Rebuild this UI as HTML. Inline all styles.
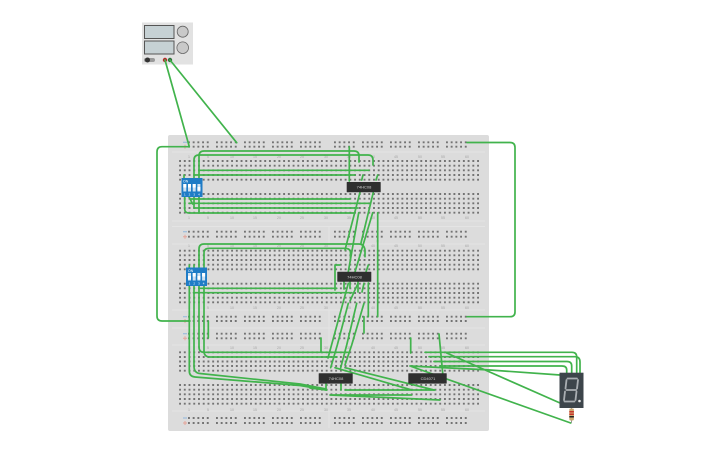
<!DOCTYPE html>
<html><head><meta charset="utf-8"><style>
html,body{margin:0;padding:0;background:#fff;width:725px;height:453px;overflow:hidden}
svg{display:block;filter:blur(0.35px)}
text{font-family:"Liberation Sans",sans-serif}
</style></head><body>
<svg width="725" height="453" viewBox="0 0 725 453" xmlns="http://www.w3.org/2000/svg">
<!-- breadboard -->
<rect x="168" y="135" width="321" height="296" rx="2" fill="#dcdcdc"/>
<g stroke="#e4e4e4" stroke-width="1" fill="none">
<path d="M172 152H485M172 221H485M172 226.500H485M172 244H485M172 310H485M172 328H485M172 345H485M172 411H485M329 227V244M329 310V345M329 411V428"/>
</g>
<!-- holes -->
<path fill="none" stroke="#737373" stroke-width="1.900" stroke-dasharray="1.900 2.830" d="
M179.100 161H479M179.100 165.700H479M179.100 170.300H479M179.100 175H479M179.100 179.700H479
M179.100 194H479M179.100 198.700H479M179.100 203.300H479M179.100 208H479M179.100 212.700H479
M179.100 250.700H479M179.100 255.300H479M179.100 260H479M179.100 264.700H479M179.100 269.300H479
M179.100 283.700H479M179.100 288.300H479M179.100 293H479M179.100 297.700H479M179.100 302.300H479
M179.100 352.300H479M179.100 357H479M179.100 361.500H479M179.100 366H479M179.100 370.700H479
M179.100 385H479M179.100 389.700H479M179.100 394.300H479M179.100 399H479M179.100 403.700H479"/>
<path fill="none" stroke="#737373" stroke-width="1.900" stroke-dasharray="1.900 2.800 1.900 2.800 1.900 2.800 1.900 2.800 1.900 7.300" d="
M188 142.300H325M188 146.700H325M334 142.300H470M334 146.700H470
M188 231.700H325M188 236.700H325M334 231.700H470M334 236.700H470
M188 316.700H325M188 321H325M334 316.700H470M334 321H470
M188 333.700H325M188 338.300H325M334 333.700H470M334 338.300H470
M188 418H325M188 423H325M334 418H470M334 423H470"/>
<!-- rail marks -->
<g stroke-width="1" fill="none">
<path stroke="#8fb6dc" d="M183 142.300h4M183 231.700h4M183 316.700h4M183 333.700h4M183 418h4"/>
<path stroke="#e5a59a" d="M183 146.700h4M185 144.700v4M183 236.700h4M185 234.700v4M183 321h4M185 319v4M183 338.300h4M185 336.300v4M183 423h4M185 421v4"/>
</g>
<!-- numbers -->
<g font-size="3.500" fill="#a5a5a5" text-anchor="middle">
<text x="189" y="158">1</text><text x="208" y="158">5</text><text x="232" y="158">10</text><text x="255" y="158">15</text><text x="279" y="158">20</text><text x="302" y="158">25</text><text x="326" y="158">30</text><text x="349" y="158">35</text><text x="373" y="158">40</text><text x="396" y="158">45</text><text x="420" y="158">50</text><text x="443" y="158">55</text><text x="467" y="158">60</text>
<text x="189" y="219">1</text><text x="208" y="219">5</text><text x="232" y="219">10</text><text x="255" y="219">15</text><text x="279" y="219">20</text><text x="302" y="219">25</text><text x="326" y="219">30</text><text x="349" y="219">35</text><text x="373" y="219">40</text><text x="396" y="219">45</text><text x="420" y="219">50</text><text x="443" y="219">55</text><text x="467" y="219">60</text>
<text x="189" y="247">1</text><text x="208" y="247">5</text><text x="232" y="247">10</text><text x="255" y="247">15</text><text x="279" y="247">20</text><text x="302" y="247">25</text><text x="326" y="247">30</text><text x="349" y="247">35</text><text x="373" y="247">40</text><text x="396" y="247">45</text><text x="420" y="247">50</text><text x="443" y="247">55</text><text x="467" y="247">60</text>
<text x="189" y="309">1</text><text x="208" y="309">5</text><text x="232" y="309">10</text><text x="255" y="309">15</text><text x="279" y="309">20</text><text x="302" y="309">25</text><text x="326" y="309">30</text><text x="349" y="309">35</text><text x="373" y="309">40</text><text x="396" y="309">45</text><text x="420" y="309">50</text><text x="443" y="309">55</text><text x="467" y="309">60</text>
<text x="189" y="349">1</text><text x="208" y="349">5</text><text x="232" y="349">10</text><text x="255" y="349">15</text><text x="279" y="349">20</text><text x="302" y="349">25</text><text x="326" y="349">30</text><text x="349" y="349">35</text><text x="373" y="349">40</text><text x="396" y="349">45</text><text x="420" y="349">50</text><text x="443" y="349">55</text><text x="467" y="349">60</text>
<text x="189" y="411">1</text><text x="208" y="411">5</text><text x="232" y="411">10</text><text x="255" y="411">15</text><text x="279" y="411">20</text><text x="302" y="411">25</text><text x="326" y="411">30</text><text x="349" y="411">35</text><text x="373" y="411">40</text><text x="396" y="411">45</text><text x="420" y="411">50</text><text x="443" y="411">55</text><text x="467" y="411">60</text>
</g>
<!-- power supply -->
<rect x="142" y="22.500" width="51" height="42" fill="#e2e2e2"/>
<rect x="144.500" y="25.500" width="29.500" height="13" fill="#c6d1d4" stroke="#555" stroke-width="1"/>
<rect x="144.500" y="41" width="29.500" height="13" fill="#c6d1d4" stroke="#555" stroke-width="1"/>
<circle cx="182.700" cy="31.700" r="5.500" fill="#c9c9c9" stroke="#666" stroke-width="0.800"/>
<circle cx="182.700" cy="47.700" r="5.800" fill="#c9c9c9" stroke="#666" stroke-width="0.800"/>
<rect x="144" y="58" width="11" height="4" rx="2" fill="#999"/>
<circle cx="147.500" cy="60" r="2.500" fill="#333"/>
<circle cx="165" cy="60" r="2.200" fill="#b8262a"/>
<circle cx="170" cy="60" r="2.200" fill="#2f6b3a"/>
<!-- wires -->
<g fill="none" stroke="#41b34c" stroke-width="1.700" stroke-linecap="round" stroke-linejoin="round">
<path d="M165 60L189.300 146.700M170 60L236.700 142.700"/>
<path d="M189 146.700H162Q157 146.700 157 152V316Q157 321 162 321H190"/>
<path d="M467 142.500H510Q515 142.500 515 147.500V312Q515 316.700 510 316.700H467"/>
<!-- board 1 -->
<path d="M199 213V156Q199 151 204 151H354Q359 151 359 156V162"/>
<path d="M194 208V160Q194 155 199 155H368Q373 155 373 160V165"/>
<path d="M199 170.300H369M194 175H355M184 175V180M349.300 146.700V181"/>
<path d="M190 199H350M189 203.300H369M194 208H358"/>
<path d="M184.700 197V209Q184.700 213 189 213H354M189 197L192.700 204"/>
<path d="M363 175L361.700 180M377.700 175L376 180"/>
<!-- chip 1 to chip 2 -->
<path d="M360 192.300L345 250M373.300 192.300L361 243"/>
<path d="M358.700 212.700L348.300 271.700M372.700 212.700L355 272"/>
<path d="M377.700 212.700V242M368.300 265L366 272"/>
<!-- chip 2 to chip 3 -->
<path d="M348.300 283.300L328 358M358 283.300L350 301M364 283.300L362 292"/>
<path d="M348.300 303.300L337.300 345L330.700 367.700"/>
<path d="M356.700 303.300L346.700 345L340.700 367.700"/>
<path d="M364 303.300L351.700 345L345 365"/>
<path d="M368.300 283V316.700M377.700 240V316.700M364 316.700V333"/>
<!-- board 2 -->
<path d="M199 347V249Q199 244 204 244H359Q364 244 365 250V256.700"/>
<path d="M204 351V253Q204 248.300 209 248.300H345Q350.500 248.300 350.500 253V258"/>
<path d="M189.300 265V371Q189.300 376.500 195 377L300 385.500L326.700 390"/>
<path d="M194 265V366Q194 373 200 373.500L300 384L326 389"/>
<path d="M199 288.300H336.700M193.500 292.700H352M335 290V265H340"/>
<path d="M344 281V289M350 281V288M358 281V292"/>
<path d="M208.300 321V338M321 338V352"/>
<path d="M199 347Q199 352.300 204 352.300H348M204 351Q204 357 210 357H337"/>
<!-- board 3 lower -->
<path d="M330 395H411.700M330 395L440 400M310 388L326.700 390M345 390H435"/>
<path d="M335 367.700L411.700 390M345 367.700L434 390M326 384V390M341 384V390"/>
<path d="M410.700 338V353M439 334L442.700 373"/>
<!-- to display -->
<path d="M425 352.300H572Q576.700 352.300 576.700 357V373"/>
<path d="M429 356.700H575Q580 356.700 580 362V373"/>
<path d="M434 361.500H567Q571.700 361.500 571.700 366V373"/>
<path d="M440 366H562Q566.700 366 566.700 370V373"/>
<path d="M446.700 353L560 403M410 366L490 370L560 375M410 366L570.700 423"/>
</g>
<!-- DIP 1 -->
<rect x="181.500" y="178" width="21" height="19" fill="#1f7cc6"/>
<g fill="#cfe2f2"><rect x="183.300" y="184" width="3" height="7.500"/><rect x="188" y="184" width="3" height="7.500"/><rect x="192.700" y="184" width="3" height="7.500"/><rect x="197.400" y="184" width="3" height="7.500"/></g>
<g fill="#fff"><rect x="183.300" y="184" width="3" height="3.500"/><rect x="188" y="184" width="3" height="3.500"/><rect x="192.700" y="184" width="3" height="3.500"/><rect x="197.400" y="187" width="3" height="3.500"/></g>
<text x="183" y="182.500" font-size="3.500" fill="#fff">ON</text>
<g font-size="3" fill="#fff" text-anchor="middle"><text x="184.800" y="195.500">1</text><text x="189.500" y="195.500">2</text><text x="194.200" y="195.500">3</text><text x="198.900" y="195.500">4</text></g>
<!-- DIP 2 -->
<rect x="186" y="267.500" width="21" height="18.500" fill="#1f7cc6"/>
<g fill="#cfe2f2"><rect x="188" y="273" width="3" height="7.500"/><rect x="192.700" y="273" width="3" height="7.500"/><rect x="197.400" y="273" width="3" height="7.500"/><rect x="202.100" y="273" width="3" height="7.500"/></g>
<g fill="#fff"><rect x="188" y="276" width="3" height="3.500"/><rect x="192.700" y="273" width="3" height="3.500"/><rect x="197.400" y="276" width="3" height="3.500"/><rect x="202.100" y="273" width="3" height="3.500"/></g>
<text x="188" y="272" font-size="3.500" fill="#fff">ON</text>
<g font-size="3" fill="#fff" text-anchor="middle"><text x="189.500" y="284.500">1</text><text x="194.200" y="284.500">2</text><text x="198.900" y="284.500">3</text><text x="203.600" y="284.500">4</text></g>
<!-- chips -->
<g fill="#2f2f2f">
<rect x="346.700" y="182" width="34" height="10.300" rx="0.500"/>
<rect x="337.300" y="271.700" width="34" height="10" rx="0.500"/>
<rect x="318.700" y="373.300" width="34" height="10.300" rx="0.500"/>
<rect x="408.300" y="373.300" width="38.400" height="10.300" rx="0.500"/>
</g>
<g font-size="4" fill="#d5d5d5" text-anchor="middle">
<text x="364" y="188.700">74HC08</text>
<text x="354.500" y="278.300">74HC08</text>
<text x="336" y="380">74HC08</text>
<text x="428" y="380">CD4071</text>
</g>
<!-- display -->
<rect x="559.500" y="372.700" width="24" height="35.300" fill="#3d454b"/>
<g fill="none" stroke="#a9aeb2" stroke-width="1.800" stroke-linecap="round">
<path d="M567.500 378.500H577M566.500 380L565.500 388.500M578 380L577 388.500M566.500 390H576M565 391.500L564 400M576.500 391.500L575.500 400M564.500 401.500H574.500"/>
</g>
<circle cx="579.500" cy="401" r="1.300" fill="#e6e6e6"/>
<!-- resistor -->
<path d="M571.500 408V423" stroke="#999" stroke-width="1" fill="none"/>
<rect x="569.300" y="408.500" width="4.600" height="12" rx="1.200" fill="#cda86f"/>
<rect x="569.300" y="411" width="4.600" height="1.500" fill="#c9352b"/>
<rect x="569.300" y="413.500" width="4.600" height="1.500" fill="#c9352b"/>
<rect x="569.300" y="416" width="4.600" height="1.500" fill="#222"/>
</svg>
</body></html>
